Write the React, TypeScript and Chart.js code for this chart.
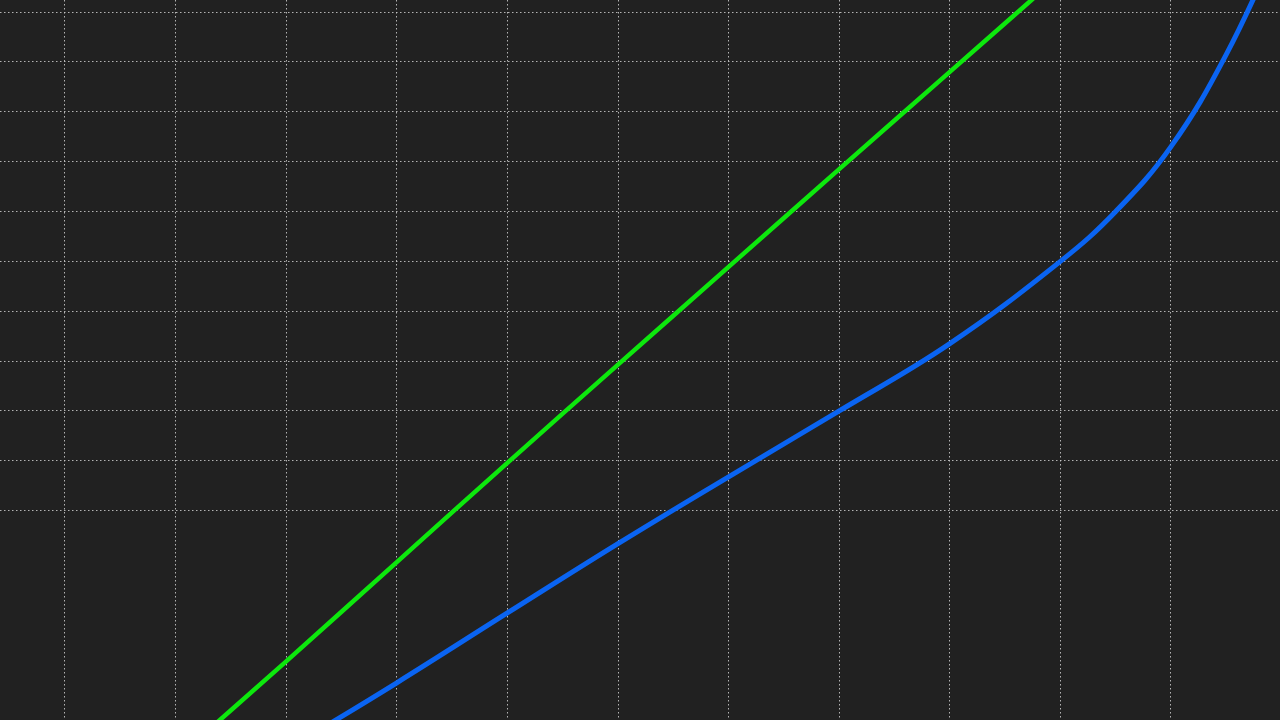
import React, { useEffect, useRef } from "react";
import { Chart, registerables } from "chart.js";

Chart.register(...registerables);

const greenX = [1, 2, 3, 4, 5, 6, 7, 8, 9, 10];
const greenY = [-4.98, -3.02, -1.03, 0.96, 2.93, 4.89, 6.85, 8.8, 10.75, 12.7];

const blueX = [2, 3, 4, 5, 6, 7, 8, 9, 9.5, 10, 10.5, 11];
const blueY = [-4.8, -3.45, -2.05, -0.66, 0.68, 2.0, 3.35, 5.0, 6.0, 7.3, 9.15, 11.5];

const xTicks = [0, 1, 2, 3, 4, 5, 6, 7, 8, 9, 10];
const yTicks = [0, 1, 2, 3, 4, 5, 6, 7, 8, 9, 10];

const bgPlugin = {
  id: "bg",
  beforeDraw(chart: any) {
    const { ctx, width, height } = chart;
    ctx.save();
    ctx.fillStyle = "#212121";
    ctx.fillRect(0, 0, width, height);
    ctx.restore();
  },
};

export default function App() {
  const ref = useRef<HTMLCanvasElement | null>(null);
  useEffect(() => {
    if (!ref.current) return;
    const gridCommon = {
      color: "rgba(205,205,205,0.85)",
      lineWidth: 1,
      drawTicks: false,
    };
    const chart = new Chart(ref.current, {
      type: "line",
      data: {
        datasets: [
          {
            label: "green",
            data: greenX.map((x, i) => ({ x, y: greenY[i] })),
            borderColor: "#0de80d",
            borderWidth: 4.5,
            pointRadius: 0,
            tension: 0.3,
          },
          {
            label: "blue",
            data: blueX.map((x, i) => ({ x, y: blueY[i] })),
            borderColor: "#0a64f2",
            borderWidth: 5,
            pointRadius: 0,
            tension: 0.4,
          },
        ],
      },
      options: {
        animation: false,
        responsive: false,
        maintainAspectRatio: false,
        layout: { padding: 0 },
        plugins: { legend: { display: false }, tooltip: { enabled: false } },
        scales: {
          x: {
            type: "linear",
            min: -65 / 110.6,
            max: (1280 - 65) / 110.6,
            grid: gridCommon,
            border: { display: false, dash: [1.5, 2.5] },
            ticks: { display: false },
            afterBuildTicks: (s: any) => {
              s.ticks = xTicks.map((v) => ({ value: v }));
            },
          },
          y: {
            type: "linear",
            min: -(720 - 511) / 49.8,
            max: 10 + 12 / 49.8,
            grid: gridCommon,
            border: { display: false, dash: [1.5, 2.5] },
            ticks: { display: false },
            afterBuildTicks: (s: any) => {
              s.ticks = yTicks.map((v) => ({ value: v }));
            },
          },
        },
      },
      plugins: [bgPlugin],
    });
    return () => chart.destroy();
  }, []);
  return (
    <div style={{ position: "fixed", left: 0, top: 0, width: 1280, height: 720, background: "#212121" }}>
      <canvas ref={ref} width={1280} height={720} style={{ display: "block", width: 1280, height: 720 }} />
    </div>
  );
}
